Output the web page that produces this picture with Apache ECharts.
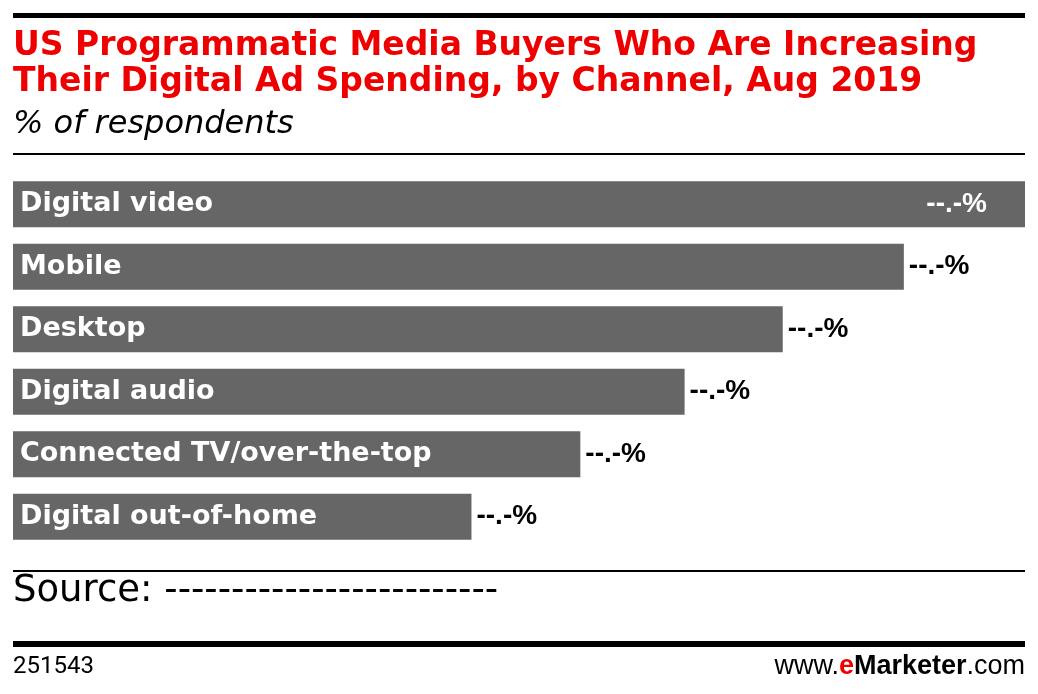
<!DOCTYPE html>
<html>
<head>
<meta charset="utf-8">
<script src="https://cdn.jsdelivr.net/npm/echarts@6/dist/echarts.min.js"></script>
<style>
html,body{margin:0;padding:0;background:#fff;}
#chart{width:1038px;height:694px;}
</style>
</head>
<body>
<div id="chart"></div>
<script>
// Data (values unreadable in source: "--.-%")
var categories = ['Digital video', 'Mobile', 'Desktop', 'Digital audio', 'Connected TV/over-the-top', 'Digital out-of-home'];
var values = [66.0, 58.1, 50.2, 43.8, 37.0, 29.9];
var valueLabels = ['--.-%', '--.-%', '--.-%', '--.-%', '--.-%', '--.-%'];

var titleText = 'US Programmatic Media Buyers Who Are Increasing\nTheir Digital Ad Spending, by Channel, Aug 2019';
var subtitleText = '% of respondents';
var sourceText = 'Source: -------------------------';
var chartId = '251543';

var chart = echarts.init(document.getElementById('chart'), null, {renderer: 'canvas'});

var mainData = values.map(function (v, i) {
  var item = {value: v, name: categories[i]};
  if (i === 0) {
    item.label = {position: 'insideRight', color: '#ffffff', offset: [-33, 0]};
  }
  return item;
});

var option = {
  backgroundColor: '#ffffff',
  animation: false,
  grid: {left: 13, right: 13, top: 173, bottom: 146, containLabel: false},
  xAxis: {
    type: 'value', min: 0, max: values[0],
    show: false
  },
  yAxis: {
    type: 'category', data: categories, inverse: true,
    show: false
  },
  series: [
    {
      type: 'bar',
      data: mainData,
      barWidth: 46,
      itemStyle: {color: '#666666'},
      label: {
        show: true, position: 'right', distance: 5,
        formatter: function (p) { return valueLabels[p.dataIndex]; },
        color: '#000000', fontFamily: 'Liberation Sans', fontWeight: 'bold', fontSize: 28
      },
      z: 2
    },
    {
      type: 'bar',
      data: values,
      barWidth: 46,
      barGap: '-100%',
      itemStyle: {color: 'rgba(0,0,0,0)'},
      label: {
        show: true, position: 'insideLeft', distance: 7,
        formatter: function (p) { return categories[p.dataIndex]; },
        color: '#ffffff', fontFamily: 'DejaVu Sans', fontWeight: 'bold', fontSize: 27
      },
      z: 3
    }
  ],
  graphic: [
    {type: 'rect', shape: {x: 13, y: 13, width: 1012, height: 5}, style: {fill: '#000'}},
    {type: 'text', left: 13, top: 28, style: {text: titleText, fill: '#ee0000', font: 'bold 33px "DejaVu Sans"', lineHeight: 36}},
    {type: 'text', left: 13, top: 109, style: {text: subtitleText, fill: '#000', font: 'italic 32px "DejaVu Sans"'}},
    {type: 'rect', shape: {x: 13, y: 153, width: 1012, height: 2}, style: {fill: '#000'}},
    {type: 'rect', shape: {x: 13, y: 570, width: 1012, height: 2}, style: {fill: '#000'}},
    {type: 'text', left: 13, top: 573, style: {text: sourceText, fill: '#000', font: '37px "DejaVu Sans"'}},
    {type: 'rect', shape: {x: 13, y: 641, width: 1012, height: 6}, style: {fill: '#000'}},
    {type: 'text', left: 13, top: 655, style: {text: chartId, fill: '#000', font: '24px Roboto'}},
    {type: 'text', right: 13, top: 653, style: {
      text: '{r|www.}{e|e}{b|Marketer}{r|.com}',
      rich: {
        r: {font: '27px "Liberation Sans"', fill: '#000'},
        e: {font: 'bold 27px "Liberation Sans"', fill: '#ee0000'},
        b: {font: 'bold 27px "Liberation Sans"', fill: '#000'}
      }
    }}
  ]
};
chart.setOption(option);
</script>
</body>
</html>
